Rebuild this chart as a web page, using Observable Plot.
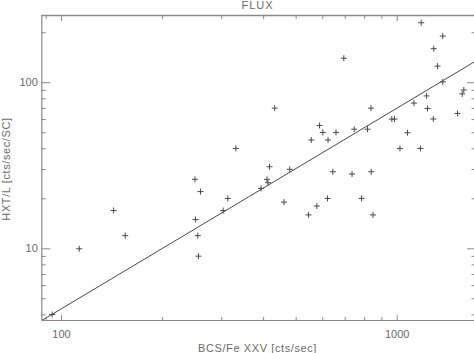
<!DOCTYPE html>
<html>
<head>
<meta charset="utf-8">
<script src="https://cdn.jsdelivr.net/npm/d3@7"></script>
<script src="https://cdn.jsdelivr.net/npm/@observablehq/plot@0.6"></script>
<style>
  html, body { margin: 0; padding: 0; background: #fff; }
  #chart svg { display: block; }
</style>
</head>
<body>
<div id="chart"></div>
<script>
// ---- data ----
const bcsFlux = [93.8,112.9,142.9,154.8,249.8,250.6,254.7,255.9,259.5,303.1,312.8,330.6,392.9,409.4,412.2,416.5,431.6,460.0,478.4,544.4,554.5,576.2,587.0,600.4,620.1,622.2,643.1,657.3,693.4,733.6,744.7,782.9,815.7,835.6,836.8,847.1,963.7,981.7,1019,1073,1122,1173,1179,1223,1231,1281,1285,1319,1367,1367,1512,1562,1579];
const hxtFlux = [4.02,10.0,17.0,12.0,26.2,15.0,12.0,9.03,22.1,17.0,20.1,40.2,23.1,26.2,25.0,31.2,70.3,19.1,30.1,16.0,45.2,18.1,55.3,50.2,20.1,45.2,29.1,50.2,140.5,28.2,52.5,20.1,52.5,70.3,29.1,16.0,60.4,60.4,40.2,50.0,75.4,40.2,229.8,83.3,70.0,60.5,160.3,125.9,190.9,101.1,65.3,85.6,90.5];
const fitX = [87.35, 1711];
const fitY = [3.70, 134.8];
const xMajor = [100, 1000];
const xMinor = [90, 200, 300, 400, 500, 600, 700, 800, 900];
const yMajor = [10, 100];
const yMinor = [4, 5, 6, 7, 8, 9, 20, 30, 40, 50, 60, 70, 80, 90, 200];
const xDomain = [87.35, 1711];
const yDomain = [3.70, 254];
const titleText = "FLUX";
const xTitle = "BCS/Fe XXV [cts/sec]";
const yTitle = "HXT/L [cts/sec/SC]";

const points = bcsFlux.map((x, i) => ({x, y: hxtFlux[i]}));
const fit = fitX.map((x, i) => ({x, y: fitY[i]}));

const cross = {
  draw(ctx, size) {
    const r = Math.sqrt(size / Math.PI);
    ctx.moveTo(-r, 0); ctx.lineTo(r, 0);
    ctx.moveTo(0, -r); ctx.lineTo(0, r);
  }
};

const axisCol = "#8a8a8a";
const inkCol = "#4a4a4a";
const textCol = "#6a6a6a";
const none = () => "";

const chart = Plot.plot({
  width: 474,
  height: 353,
  marginLeft: 41.3,
  marginRight: -1,
  marginTop: 15,
  marginBottom: 33,
  x: {type: "log", domain: xDomain, label: null},
  y: {type: "log", domain: yDomain, label: null},
  style: {fontFamily: "'Liberation Sans', Arial, sans-serif", fontSize: "11px", color: textCol, background: "#fff"},
  marks: [
    // frame (top, bottom, left)
    Plot.ruleY([yDomain[1]], {stroke: axisCol, strokeWidth: 1.4}),
    Plot.ruleY([yDomain[0]], {stroke: axisCol, strokeWidth: 1.2}),
    Plot.ruleX([xDomain[0]], {stroke: axisCol, strokeWidth: 1.2}),
    // bottom ticks
    Plot.axisX(xMajor, {anchor: "bottom", tickSize: -5, tickFormat: none, color: axisCol}),
    Plot.axisX(xMinor, {anchor: "bottom", tickSize: -3, tickFormat: none, color: axisCol}),
    Plot.axisX(xMajor, {anchor: "bottom", tickSize: 0, tickPadding: 9.5, tickFormat: d => String(d), color: textCol}),
    // top ticks
    Plot.axisX(xMajor, {anchor: "top", tickSize: -5, tickFormat: none, color: axisCol}),
    Plot.axisX(xMinor, {anchor: "top", tickSize: -3, tickFormat: none, color: axisCol}),
    // left ticks
    Plot.axisY(yMajor, {anchor: "left", tickSize: -9, tickFormat: none, color: axisCol}),
    Plot.axisY(yMinor, {anchor: "left", tickSize: -4.5, tickFormat: none, color: axisCol}),
    Plot.axisY(yMajor, {anchor: "left", tickSize: 0, tickPadding: 4, tickFormat: d => String(d), color: textCol}),
    // right ticks
    Plot.axisY(yMajor, {anchor: "right", tickSize: -9, tickFormat: none, color: axisCol}),
    Plot.axisY(yMinor, {anchor: "right", tickSize: -4.5, tickFormat: none, color: axisCol}),
    // fit line
    Plot.line(fit, {x: "x", y: "y", stroke: inkCol, strokeWidth: 1, clip: true}),
    // data crosses
    Plot.dot(points, {x: "x", y: "y", symbol: cross, r: 3, stroke: inkCol, fill: "none", strokeWidth: 1})
  ]
});

const svg = d3.select(chart);
svg.append("text")
  .attr("x", 257.5).attr("y", 8.5)
  .attr("text-anchor", "middle")
  .attr("fill", textCol).attr("font-size", 11).attr("letter-spacing", 1)
  .text(titleText);
svg.append("text")
  .attr("x", 257.5).attr("y", 351.5)
  .attr("text-anchor", "middle")
  .attr("fill", textCol).attr("font-size", 11).attr("letter-spacing", 0.6)
  .text(xTitle);
svg.append("text")
  .attr("transform", "translate(10,169) rotate(-90)")
  .attr("text-anchor", "middle")
  .attr("fill", textCol).attr("font-size", 11).attr("letter-spacing", 0.6)
  .text(yTitle);

document.getElementById("chart").appendChild(chart);
</script>
</body>
</html>
